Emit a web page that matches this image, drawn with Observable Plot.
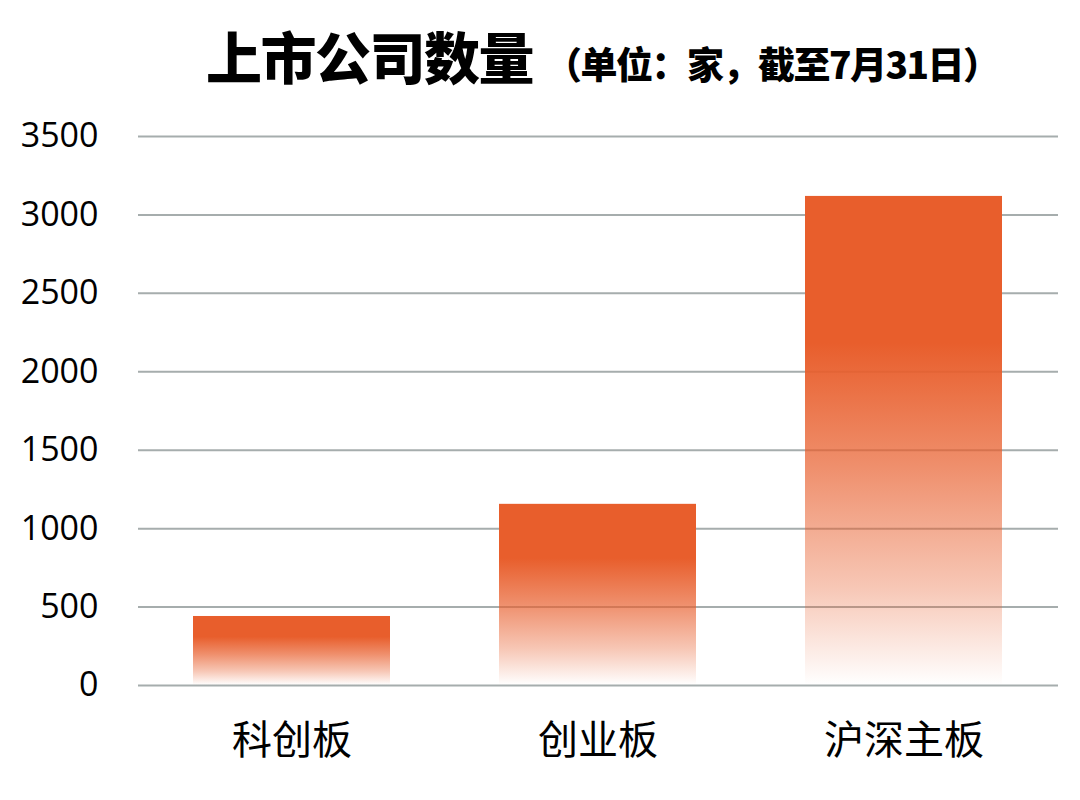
<!DOCTYPE html>
<html>
<head>
<meta charset="utf-8">
<script src="https://cdn.jsdelivr.net/npm/d3@7"></script>
<script src="https://cdn.jsdelivr.net/npm/@observablehq/plot@0.6"></script>
<style>
  body { margin: 0; background: #fff; }
  #title { height: 110px; position: relative; font-family: "Noto Sans CJK SC", sans-serif; color: #000; }
  #title .main { position: absolute; left: 206px; top: 14px; font-size: 56px; font-weight: 900; letter-spacing: -1.5px; white-space: nowrap; }
  #title .sub { font-size: 37px; font-weight: 900; letter-spacing: -1.5px; margin-left: 12px; }
</style>
</head>
<body>
<div id="title"><div class="main">上市公司数量<span class="sub">（单位：家，截至7月31日）</span></div></div>
<div id="chart"></div>
<script>
const categories = ["科创板", "创业板", "沪深主板"];
const values = [440, 1155, 3118];
const yTicks = [0, 500, 1000, 1500, 2000, 2500, 3000, 3500];

const data = categories.map((c, i) => ({ board: c, count: values[i] }));

function gradientDefs() {
  const ns = "http://www.w3.org/2000/svg";
  const defs = document.createElementNS(ns, "defs");
  const lg = document.createElementNS(ns, "linearGradient");
  lg.setAttribute("id", "barGrad");
  lg.setAttribute("x1", "0"); lg.setAttribute("y1", "0");
  lg.setAttribute("x2", "0"); lg.setAttribute("y2", "1");
  const stops = [[0, 1], [0.3, 1], [0.55, 0.7], [0.8, 0.35], [1, 0]];
  for (const [o, a] of stops) {
    const s = document.createElementNS(ns, "stop");
    s.setAttribute("offset", o);
    s.setAttribute("stop-color", "#E85E2C");
    s.setAttribute("stop-opacity", a);
    lg.appendChild(s);
  }
  defs.appendChild(lg);
  return defs;
}

const chart = Plot.plot({
  width: 1080,
  height: 690,
  marginTop: 26,
  marginBottom: 115,
  marginLeft: 138,
  marginRight: 22,
  style: { fontFamily: "'Open Sans', 'Noto Sans', sans-serif", color: "#000", background: "#fff" },
  x: { domain: categories, paddingInner: 0.356, paddingOuter: 0.18, label: null },
  y: { domain: [0, 3500], label: null },
  marks: [
    gradientDefs,
    Plot.gridY(yTicks, { stroke: "#A6ADAD", strokeOpacity: 1, strokeWidth: 2 }),
    Plot.barY(data, { x: "board", y: "count", fill: "url(#barGrad)" }),
    Plot.axisY({ ticks: yTicks, tickSize: 0, tickPadding: 40, fontSize: 34, label: null, tickFormat: d => String(d) }),
    Plot.axisX({ tickSize: 0, tickPadding: 40, fontSize: 40, label: null, fontFamily: "'Noto Sans CJK SC', sans-serif" })
  ]
});
document.getElementById("chart").appendChild(chart);
</script>
</body>
</html>
